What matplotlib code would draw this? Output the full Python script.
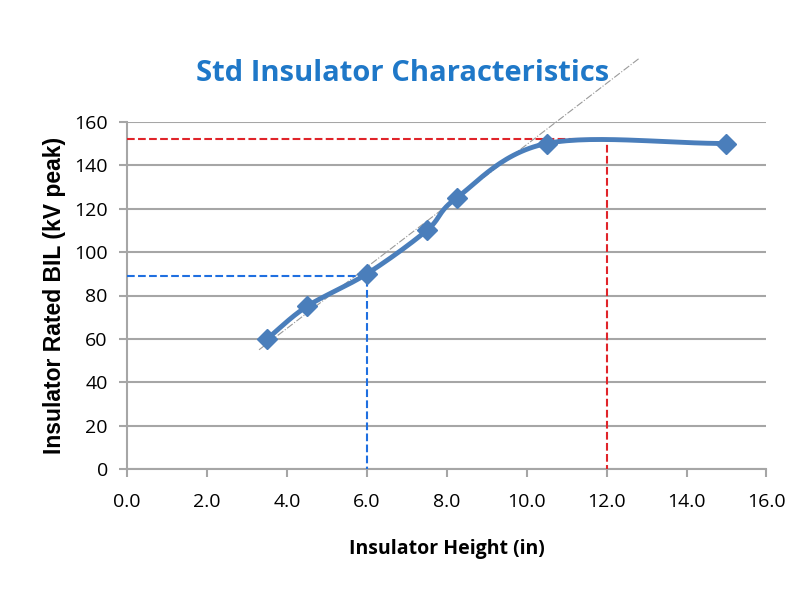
import numpy as np
import matplotlib
matplotlib.use('Agg')
import matplotlib.pyplot as plt

# data
height = [3.5, 4.5, 6.0, 7.5, 8.25, 10.5, 15.0]
bil = [60, 75, 90, 110, 125, 150, 150]
trend_x = [3.3, 12.8]
trend_y = [55, 189]
blue_pt = (6.0, 89)
red_pt = (12.0, 152)
xticks = np.arange(0, 16.1, 2)
yticks = np.arange(0, 161, 20)


def smooth(x, y, n=30):
    # Catmull-Rom spline, close to Excel's smoothed line
    x = np.asarray(x, float)
    y = np.asarray(y, float)
    px = np.r_[2 * x[0] - x[1], x, 2 * x[-1] - x[-2]]
    py = np.r_[2 * y[0] - y[1], y, 2 * y[-1] - y[-2]]
    xs, ys = [], []
    t = np.linspace(0, 1, n)
    for i in range(1, len(px) - 2):
        for p, out in ((px, xs), (py, ys)):
            p0, p1, p2, p3 = p[i - 1], p[i], p[i + 1], p[i + 2]
            out.extend(0.5 * (2 * p1 + (-p0 + p2) * t
                              + (2 * p0 - 5 * p1 + 4 * p2 - p3) * t ** 2
                              + (-p0 + 3 * p1 - 3 * p2 + p3) * t ** 3))
    return xs, ys


fig = plt.figure(figsize=(8, 6), dpi=100)
ax = fig.add_axes([0.159, 0.218, 0.799, 0.579])

tick_font = ['Open Sans', 'DejaVu Sans']
grid_c = '#a6a6a6'

ax.set_xlim(0, 16)
ax.set_ylim(0, 160)
ax.set_yticks(yticks)
ax.set_xticks(xticks)
ax.set_xticklabels(['%.1f' % v for v in xticks])
ax.yaxis.grid(True, color=grid_c, linewidth=1.5)
ax.set_axisbelow(True)
for s in ['top', 'right']:
    ax.spines[s].set_visible(False)
for s in ['left', 'bottom']:
    ax.spines[s].set_color(grid_c)
    ax.spines[s].set_linewidth(1.5)
ax.tick_params(direction='out', length=6, width=1.5, color=grid_c,
               labelsize=14, pad=8)
ax.tick_params(axis='x', pad=11)
for lab in ax.get_xticklabels() + ax.get_yticklabels():
    lab.set_family(tick_font)

# gray dash-dot trendline
ax.plot(trend_x, trend_y, color='#9a9a9a', linewidth=0.8,
        linestyle='-.', clip_on=False, zorder=2)

# guide lines
ax.plot([0, blue_pt[0], blue_pt[0]], [blue_pt[1], blue_pt[1], 0],
        color='#1f6fe0', linestyle='--', linewidth=1.5, zorder=3)
ax.plot([0, red_pt[0], red_pt[0]], [red_pt[1], red_pt[1], 0],
        color='#e0242a', linestyle='--', linewidth=1.5, zorder=3)

sx, sy = smooth(height, bil)
ax.plot(sx, sy, color='#4a7ebb', linewidth=3.5, zorder=4)
ax.plot(height, bil, linestyle='none', marker='D', markersize=10,
        color='#4a7ebb', zorder=5)

ax.set_xlabel('Insulator Height (in)', fontsize=14, fontweight='bold',
              family=tick_font, labelpad=20)
ax.set_ylabel('Insulator Rated BIL (kV peak)', fontsize=16.5,
              fontweight='bold',
              family=['Liberation Sans', 'DejaVu Sans'], labelpad=6)
fig.text(0.503, 0.878, 'Std Insulator Characteristics', ha='center',
         va='center', fontsize=21, fontweight='bold', color='#1f78c8',
         family=tick_font)

plt.savefig('out.png', dpi=100)
